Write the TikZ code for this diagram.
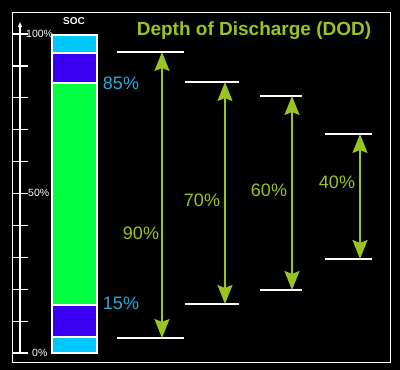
\documentclass[tikz,border=0pt]{standalone}
\usepackage{fontspec}
\setmainfont{Liberation Sans}
\usetikzlibrary{arrows.meta, positioning}
\definecolor{dodgreen}{RGB}{154, 196, 30}
\definecolor{soccyan}{RGB}{0, 200, 255}
\definecolor{socblue}{RGB}{56, 0, 240}
\definecolor{socgreen}{RGB}{0, 255, 64}
\definecolor{pctblue}{RGB}{40, 170, 220}

\begin{document}
\begin{tikzpicture}[x=1pt, y=-1pt,
  level/.style={draw=white, line width=1.2pt},
  tick/.style={draw=white, line width=1.2pt},
  dodarrow/.style={draw=dodgreen, line width=2pt,
    {Stealth[length=19pt, width=15pt, inset=3pt]}-{Stealth[length=19pt, width=15pt, inset=3pt]}},
  dodlabel/.style={text=dodgreen, inner sep=0pt, font=\fontsize{18}{20}\selectfont},
  pctlabel/.style={text=pctblue, inner sep=0pt, font=\fontsize{18}{20}\selectfont},
  axlabel/.style={text=white, inner sep=0pt, anchor=west, font=\fontsize{10.5}{12}\selectfont}
]
  \fill[black] (0,0) rectangle (400,370);
  \useasboundingbox (0,0) rectangle (400,370);
  \draw[white, line width=1pt] (12,12) rectangle (390,362);

  % SOC scale
  \draw[white, line width=1.2pt, -{Triangle[length=5pt, width=4pt]}] (20,353) -- (20,22);
  \foreach \i in {0,...,10}
    \draw[tick] (12,{353-31.9*\i}) -- (28,{353-31.9*\i});
  \node[axlabel] (p100) at (26,34) {100\%};
  \node[axlabel] (p50) at (28,193) {50\%};
  \node[axlabel] (p0) at (32,353) {0\%};
  \node[text=white, inner sep=0pt, font=\bfseries\fontsize{10}{12}\selectfont] (soc) at (74,21) {SOC};

  % SOC bar
  \fill[soccyan] (52,35) rectangle (97,53);
  \fill[socblue] (52,53) rectangle (97,83);
  \fill[socgreen] (52,83) rectangle (97,305);
  \fill[socblue] (52,305) rectangle (97,337);
  \fill[soccyan] (52,337) rectangle (97,353);
  \foreach \y in {53,83,305,337}
    \draw[level] (52,\y) -- (97,\y);
  \draw[level] (52,35) rectangle (97,353);
  \node[pctlabel] (p85) at (121,83) {85\%};
  \node[pctlabel] (p15) at (121,303) {15\%};

  \node[text=dodgreen, inner sep=0pt, font=\bfseries\fontsize{19}{22}\selectfont] (title) at (254,31) {Depth of Discharge (DOD)};

  % DOD levels
  \draw[level] (117,52) -- (184,52);
  \draw[level] (117,338) -- (184,338);
  \draw[level] (185,82) -- (239,82);
  \draw[level] (185,304) -- (239,304);
  \draw[level] (260,96) -- (302,96);
  \draw[level] (260,290) -- (302,290);
  \draw[level] (325,134) -- (372,134);
  \draw[level] (325,259) -- (372,259);

  \coordinate (top90) at (162,52);
  \coordinate (bot90) at (162,338);
  \coordinate (top70) at (225,82);
  \coordinate (bot70) at (225,304);
  \coordinate (top60) at (292,96);
  \coordinate (bot60) at (292,290);
  \coordinate (top40) at (360,134);
  \coordinate (bot40) at (360,259);

  \draw[dodarrow] (top90) -- (bot90);
  \draw[dodarrow] (top70) -- (bot70);
  \draw[dodarrow] (top60) -- (bot60);
  \draw[dodarrow] (top40) -- (bot40);

  \node[dodlabel] (d90) at (141,233) {90\%};
  \node[dodlabel] (d70) at (202,200) {70\%};
  \node[dodlabel] (d60) at (269,190) {60\%};
  \node[dodlabel] (d40) at (337,182) {40\%};
\end{tikzpicture}
\end{document}
